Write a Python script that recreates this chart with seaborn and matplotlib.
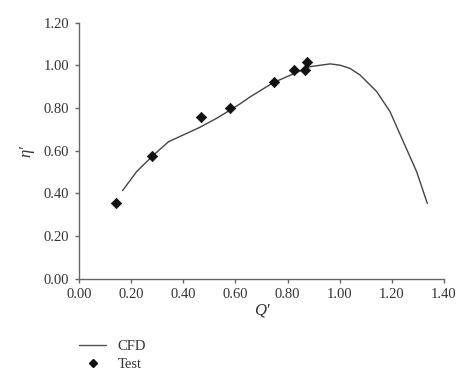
import numpy as np
import pandas as pd
import matplotlib
matplotlib.use("Agg")
import matplotlib.pyplot as plt
import seaborn as sns
from matplotlib.lines import Line2D

# CFD curve
cfd_q = [0.167, 0.221, 0.279, 0.343, 0.400, 0.464, 0.528, 0.579, 0.618, 0.656,
         0.745, 0.822, 0.886, 0.963, 1.001, 1.039, 1.078, 1.142, 1.193, 1.244,
         1.295, 1.336]
cfd_eta = [0.413, 0.502, 0.572, 0.642, 0.674, 0.710, 0.752, 0.790, 0.820, 0.852,
           0.919, 0.960, 0.994, 1.007, 1.001, 0.986, 0.955, 0.877, 0.783, 0.642,
           0.502, 0.353]

# test points
test_q = [0.142, 0.281, 0.469, 0.580, 0.748, 0.825, 0.868, 0.873]
test_eta = [0.356, 0.575, 0.757, 0.800, 0.922, 0.980, 0.978, 1.014]

xticks = [0.0, 0.2, 0.4, 0.6, 0.8, 1.0, 1.2, 1.4]
yticks = [0.0, 0.2, 0.4, 0.6, 0.8, 1.0, 1.2]

sns.set_style("white")
plt.rcParams["font.family"] = ["Liberation Serif", "DejaVu Serif"]

cfd = pd.DataFrame({"Q": cfd_q, "eta": cfd_eta})
test = pd.DataFrame({"Q": test_q, "eta": test_eta})

fig = plt.figure(figsize=(4.74, 3.87), dpi=100)
ax = fig.add_axes([0.1667, 0.2798, 0.77, 0.6615])

sns.lineplot(data=cfd, x="Q", y="eta", sort=False, color="#444444", linewidth=1.0, ax=ax)
sns.scatterplot(data=test, x="Q", y="eta", marker="D", s=28, color="#111111",
                edgecolor="#111111", linewidth=0.5, zorder=3, ax=ax)

ax.set_xlim(0, 1.4)
ax.set_ylim(0, 1.2)
ax.set_xticks(xticks)
ax.set_yticks(yticks)
ax.set_xticklabels([f"{v:.2f}" for v in xticks])
ax.set_yticklabels([f"{v:.2f}" for v in yticks])

for s in ["top", "right"]:
    ax.spines[s].set_visible(False)
for s in ["left", "bottom"]:
    ax.spines[s].set_color("#666666")
    ax.spines[s].set_linewidth(1.0)
ax.tick_params(axis="both", direction="out", length=3, width=1.0, color="#666666",
               labelsize=10.5, labelcolor="#333333", pad=4)
ax.tick_params(left=True, bottom=True)

ax.set_xlabel("Q\u2032", fontsize=12, fontstyle="italic", color="#333333", labelpad=1)
ax.set_ylabel("\u03b7\u2032", fontsize=12, fontstyle="italic", color="#333333", labelpad=7)

handles = [Line2D([], [], color="#555555", linewidth=1.0),
           Line2D([], [], marker="D", linestyle="none", color="#111111", markersize=4.5)]
fig.legend(handles, ["CFD", "Test"], loc="upper left", bbox_to_anchor=(0.14, 0.155),
           frameon=False, fontsize=10.5, handlelength=1.8, handletextpad=0.8,
           labelspacing=0.3, labelcolor="#333333")

fig.savefig("out.png", dpi=100)
